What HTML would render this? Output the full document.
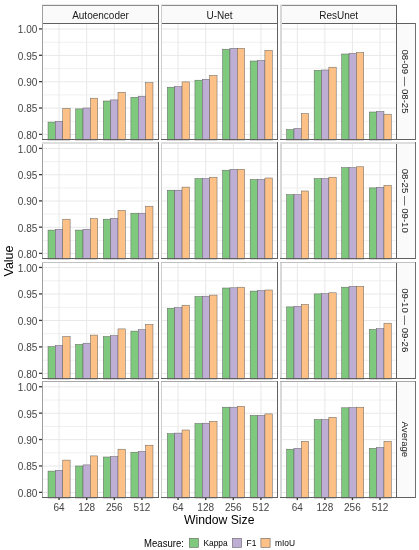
<!DOCTYPE html>
<html><head><meta charset="utf-8"><style>
html,body{margin:0;padding:0;background:#fff;}
body{width:419px;height:550px;overflow:hidden;}
svg{display:block;font-family:"Liberation Sans",Arial,sans-serif;}
</style></head><body>
<svg width="419" height="550" viewBox="0 0 419 550" shape-rendering="auto">
<rect x="0" y="0" width="419" height="550" fill="#FFFFFF"/>
<line x1="42.5" x2="158.5" y1="121.30" y2="121.30" stroke="#F0F0F0" stroke-width="1"/>
<line x1="42.5" x2="158.5" y1="94.93" y2="94.93" stroke="#F0F0F0" stroke-width="1"/>
<line x1="42.5" x2="158.5" y1="68.57" y2="68.57" stroke="#F0F0F0" stroke-width="1"/>
<line x1="42.5" x2="158.5" y1="42.20" y2="42.20" stroke="#F0F0F0" stroke-width="1"/>
<line x1="42.5" x2="158.5" y1="134.48" y2="134.48" stroke="#E8E8E8" stroke-width="1"/>
<line x1="42.5" x2="158.5" y1="108.11" y2="108.11" stroke="#E8E8E8" stroke-width="1"/>
<line x1="42.5" x2="158.5" y1="81.75" y2="81.75" stroke="#E8E8E8" stroke-width="1"/>
<line x1="42.5" x2="158.5" y1="55.39" y2="55.39" stroke="#E8E8E8" stroke-width="1"/>
<line x1="42.5" x2="158.5" y1="29.02" y2="29.02" stroke="#E8E8E8" stroke-width="1"/>
<line x1="59.07" x2="59.07" y1="23.5" y2="139.5" stroke="#E8E8E8" stroke-width="1"/>
<line x1="86.69" x2="86.69" y1="23.5" y2="139.5" stroke="#E8E8E8" stroke-width="1"/>
<line x1="114.31" x2="114.31" y1="23.5" y2="139.5" stroke="#E8E8E8" stroke-width="1"/>
<line x1="141.93" x2="141.93" y1="23.5" y2="139.5" stroke="#E8E8E8" stroke-width="1"/>
<g stroke="#606060" stroke-width="0.5">
<rect x="48.02" y="122.10" width="7.37" height="17.90" fill="#7FC97F"/>
<rect x="55.39" y="121.30" width="7.37" height="18.70" fill="#BEAED4"/>
<rect x="62.75" y="108.30" width="7.37" height="31.70" fill="#FDC086"/>
<rect x="75.64" y="108.90" width="7.37" height="31.10" fill="#7FC97F"/>
<rect x="83.01" y="108.00" width="7.37" height="32.00" fill="#BEAED4"/>
<rect x="90.37" y="98.20" width="7.37" height="41.80" fill="#FDC086"/>
<rect x="103.26" y="101.00" width="7.37" height="39.00" fill="#7FC97F"/>
<rect x="110.63" y="99.90" width="7.37" height="40.10" fill="#BEAED4"/>
<rect x="117.99" y="92.30" width="7.37" height="47.70" fill="#FDC086"/>
<rect x="130.88" y="97.30" width="7.37" height="42.70" fill="#7FC97F"/>
<rect x="138.25" y="96.20" width="7.37" height="43.80" fill="#BEAED4"/>
<rect x="145.61" y="82.70" width="7.37" height="57.30" fill="#FDC086"/>
</g>
<line x1="161.5" x2="277.5" y1="121.30" y2="121.30" stroke="#F0F0F0" stroke-width="1"/>
<line x1="161.5" x2="277.5" y1="94.93" y2="94.93" stroke="#F0F0F0" stroke-width="1"/>
<line x1="161.5" x2="277.5" y1="68.57" y2="68.57" stroke="#F0F0F0" stroke-width="1"/>
<line x1="161.5" x2="277.5" y1="42.20" y2="42.20" stroke="#F0F0F0" stroke-width="1"/>
<line x1="161.5" x2="277.5" y1="134.48" y2="134.48" stroke="#E8E8E8" stroke-width="1"/>
<line x1="161.5" x2="277.5" y1="108.11" y2="108.11" stroke="#E8E8E8" stroke-width="1"/>
<line x1="161.5" x2="277.5" y1="81.75" y2="81.75" stroke="#E8E8E8" stroke-width="1"/>
<line x1="161.5" x2="277.5" y1="55.39" y2="55.39" stroke="#E8E8E8" stroke-width="1"/>
<line x1="161.5" x2="277.5" y1="29.02" y2="29.02" stroke="#E8E8E8" stroke-width="1"/>
<line x1="178.07" x2="178.07" y1="23.5" y2="139.5" stroke="#E8E8E8" stroke-width="1"/>
<line x1="205.69" x2="205.69" y1="23.5" y2="139.5" stroke="#E8E8E8" stroke-width="1"/>
<line x1="233.31" x2="233.31" y1="23.5" y2="139.5" stroke="#E8E8E8" stroke-width="1"/>
<line x1="260.93" x2="260.93" y1="23.5" y2="139.5" stroke="#E8E8E8" stroke-width="1"/>
<g stroke="#606060" stroke-width="0.5">
<rect x="167.32" y="87.20" width="7.37" height="52.80" fill="#7FC97F"/>
<rect x="174.69" y="86.60" width="7.37" height="53.40" fill="#BEAED4"/>
<rect x="182.05" y="81.90" width="7.37" height="58.10" fill="#FDC086"/>
<rect x="194.94" y="80.20" width="7.37" height="59.80" fill="#7FC97F"/>
<rect x="202.31" y="79.30" width="7.37" height="60.70" fill="#BEAED4"/>
<rect x="209.67" y="75.40" width="7.37" height="64.60" fill="#FDC086"/>
<rect x="222.56" y="49.20" width="7.37" height="90.80" fill="#7FC97F"/>
<rect x="229.93" y="48.30" width="7.37" height="91.70" fill="#BEAED4"/>
<rect x="237.29" y="48.30" width="7.37" height="91.70" fill="#FDC086"/>
<rect x="250.18" y="61.00" width="7.37" height="79.00" fill="#7FC97F"/>
<rect x="257.55" y="60.50" width="7.37" height="79.50" fill="#BEAED4"/>
<rect x="264.91" y="50.30" width="7.37" height="89.70" fill="#FDC086"/>
</g>
<line x1="280.8" x2="396.5" y1="121.30" y2="121.30" stroke="#F0F0F0" stroke-width="1"/>
<line x1="280.8" x2="396.5" y1="94.93" y2="94.93" stroke="#F0F0F0" stroke-width="1"/>
<line x1="280.8" x2="396.5" y1="68.57" y2="68.57" stroke="#F0F0F0" stroke-width="1"/>
<line x1="280.8" x2="396.5" y1="42.20" y2="42.20" stroke="#F0F0F0" stroke-width="1"/>
<line x1="280.8" x2="396.5" y1="134.48" y2="134.48" stroke="#E8E8E8" stroke-width="1"/>
<line x1="280.8" x2="396.5" y1="108.11" y2="108.11" stroke="#E8E8E8" stroke-width="1"/>
<line x1="280.8" x2="396.5" y1="81.75" y2="81.75" stroke="#E8E8E8" stroke-width="1"/>
<line x1="280.8" x2="396.5" y1="55.39" y2="55.39" stroke="#E8E8E8" stroke-width="1"/>
<line x1="280.8" x2="396.5" y1="29.02" y2="29.02" stroke="#E8E8E8" stroke-width="1"/>
<line x1="297.33" x2="297.33" y1="23.5" y2="139.5" stroke="#E8E8E8" stroke-width="1"/>
<line x1="324.88" x2="324.88" y1="23.5" y2="139.5" stroke="#E8E8E8" stroke-width="1"/>
<line x1="352.42" x2="352.42" y1="23.5" y2="139.5" stroke="#E8E8E8" stroke-width="1"/>
<line x1="379.97" x2="379.97" y1="23.5" y2="139.5" stroke="#E8E8E8" stroke-width="1"/>
<g stroke="#606060" stroke-width="0.5">
<rect x="286.61" y="129.60" width="7.35" height="10.40" fill="#7FC97F"/>
<rect x="293.96" y="128.40" width="7.35" height="11.60" fill="#BEAED4"/>
<rect x="301.30" y="113.70" width="7.35" height="26.30" fill="#FDC086"/>
<rect x="314.16" y="70.30" width="7.35" height="69.70" fill="#7FC97F"/>
<rect x="321.50" y="70.00" width="7.35" height="70.00" fill="#BEAED4"/>
<rect x="328.85" y="67.20" width="7.35" height="72.80" fill="#FDC086"/>
<rect x="341.70" y="54.00" width="7.35" height="86.00" fill="#7FC97F"/>
<rect x="349.05" y="53.40" width="7.35" height="86.60" fill="#BEAED4"/>
<rect x="356.40" y="52.60" width="7.35" height="87.40" fill="#FDC086"/>
<rect x="369.25" y="112.00" width="7.35" height="28.00" fill="#7FC97F"/>
<rect x="376.60" y="111.40" width="7.35" height="28.60" fill="#BEAED4"/>
<rect x="383.94" y="114.20" width="7.35" height="25.80" fill="#FDC086"/>
</g>
<line x1="42.5" x2="158.5" y1="240.38" y2="240.38" stroke="#F0F0F0" stroke-width="1"/>
<line x1="42.5" x2="158.5" y1="214.12" y2="214.12" stroke="#F0F0F0" stroke-width="1"/>
<line x1="42.5" x2="158.5" y1="187.88" y2="187.88" stroke="#F0F0F0" stroke-width="1"/>
<line x1="42.5" x2="158.5" y1="161.63" y2="161.63" stroke="#F0F0F0" stroke-width="1"/>
<line x1="42.5" x2="158.5" y1="253.50" y2="253.50" stroke="#E8E8E8" stroke-width="1"/>
<line x1="42.5" x2="158.5" y1="227.25" y2="227.25" stroke="#E8E8E8" stroke-width="1"/>
<line x1="42.5" x2="158.5" y1="201.00" y2="201.00" stroke="#E8E8E8" stroke-width="1"/>
<line x1="42.5" x2="158.5" y1="174.75" y2="174.75" stroke="#E8E8E8" stroke-width="1"/>
<line x1="42.5" x2="158.5" y1="148.50" y2="148.50" stroke="#E8E8E8" stroke-width="1"/>
<line x1="59.07" x2="59.07" y1="143.0" y2="258.5" stroke="#E8E8E8" stroke-width="1"/>
<line x1="86.69" x2="86.69" y1="143.0" y2="258.5" stroke="#E8E8E8" stroke-width="1"/>
<line x1="114.31" x2="114.31" y1="143.0" y2="258.5" stroke="#E8E8E8" stroke-width="1"/>
<line x1="141.93" x2="141.93" y1="143.0" y2="258.5" stroke="#E8E8E8" stroke-width="1"/>
<g stroke="#606060" stroke-width="0.5">
<rect x="48.02" y="230.10" width="7.37" height="28.90" fill="#7FC97F"/>
<rect x="55.39" y="229.30" width="7.37" height="29.70" fill="#BEAED4"/>
<rect x="62.75" y="219.20" width="7.37" height="39.80" fill="#FDC086"/>
<rect x="75.64" y="230.10" width="7.37" height="28.90" fill="#7FC97F"/>
<rect x="83.01" y="229.30" width="7.37" height="29.70" fill="#BEAED4"/>
<rect x="90.37" y="218.60" width="7.37" height="40.40" fill="#FDC086"/>
<rect x="103.26" y="219.20" width="7.37" height="39.80" fill="#7FC97F"/>
<rect x="110.63" y="218.30" width="7.37" height="40.70" fill="#BEAED4"/>
<rect x="117.99" y="210.40" width="7.37" height="48.60" fill="#FDC086"/>
<rect x="130.88" y="213.20" width="7.37" height="45.80" fill="#7FC97F"/>
<rect x="138.25" y="213.20" width="7.37" height="45.80" fill="#BEAED4"/>
<rect x="145.61" y="206.20" width="7.37" height="52.80" fill="#FDC086"/>
</g>
<line x1="161.5" x2="277.5" y1="240.38" y2="240.38" stroke="#F0F0F0" stroke-width="1"/>
<line x1="161.5" x2="277.5" y1="214.12" y2="214.12" stroke="#F0F0F0" stroke-width="1"/>
<line x1="161.5" x2="277.5" y1="187.88" y2="187.88" stroke="#F0F0F0" stroke-width="1"/>
<line x1="161.5" x2="277.5" y1="161.63" y2="161.63" stroke="#F0F0F0" stroke-width="1"/>
<line x1="161.5" x2="277.5" y1="253.50" y2="253.50" stroke="#E8E8E8" stroke-width="1"/>
<line x1="161.5" x2="277.5" y1="227.25" y2="227.25" stroke="#E8E8E8" stroke-width="1"/>
<line x1="161.5" x2="277.5" y1="201.00" y2="201.00" stroke="#E8E8E8" stroke-width="1"/>
<line x1="161.5" x2="277.5" y1="174.75" y2="174.75" stroke="#E8E8E8" stroke-width="1"/>
<line x1="161.5" x2="277.5" y1="148.50" y2="148.50" stroke="#E8E8E8" stroke-width="1"/>
<line x1="178.07" x2="178.07" y1="143.0" y2="258.5" stroke="#E8E8E8" stroke-width="1"/>
<line x1="205.69" x2="205.69" y1="143.0" y2="258.5" stroke="#E8E8E8" stroke-width="1"/>
<line x1="233.31" x2="233.31" y1="143.0" y2="258.5" stroke="#E8E8E8" stroke-width="1"/>
<line x1="260.93" x2="260.93" y1="143.0" y2="258.5" stroke="#E8E8E8" stroke-width="1"/>
<g stroke="#606060" stroke-width="0.5">
<rect x="167.32" y="190.20" width="7.37" height="68.80" fill="#7FC97F"/>
<rect x="174.69" y="190.20" width="7.37" height="68.80" fill="#BEAED4"/>
<rect x="182.05" y="187.10" width="7.37" height="71.90" fill="#FDC086"/>
<rect x="194.94" y="178.60" width="7.37" height="80.40" fill="#7FC97F"/>
<rect x="202.31" y="178.60" width="7.37" height="80.40" fill="#BEAED4"/>
<rect x="209.67" y="177.20" width="7.37" height="81.80" fill="#FDC086"/>
<rect x="222.56" y="170.20" width="7.37" height="88.80" fill="#7FC97F"/>
<rect x="229.93" y="169.30" width="7.37" height="89.70" fill="#BEAED4"/>
<rect x="237.29" y="169.30" width="7.37" height="89.70" fill="#FDC086"/>
<rect x="250.18" y="179.50" width="7.37" height="79.50" fill="#7FC97F"/>
<rect x="257.55" y="179.50" width="7.37" height="79.50" fill="#BEAED4"/>
<rect x="264.91" y="178.00" width="7.37" height="81.00" fill="#FDC086"/>
</g>
<line x1="280.8" x2="396.5" y1="240.38" y2="240.38" stroke="#F0F0F0" stroke-width="1"/>
<line x1="280.8" x2="396.5" y1="214.12" y2="214.12" stroke="#F0F0F0" stroke-width="1"/>
<line x1="280.8" x2="396.5" y1="187.88" y2="187.88" stroke="#F0F0F0" stroke-width="1"/>
<line x1="280.8" x2="396.5" y1="161.63" y2="161.63" stroke="#F0F0F0" stroke-width="1"/>
<line x1="280.8" x2="396.5" y1="253.50" y2="253.50" stroke="#E8E8E8" stroke-width="1"/>
<line x1="280.8" x2="396.5" y1="227.25" y2="227.25" stroke="#E8E8E8" stroke-width="1"/>
<line x1="280.8" x2="396.5" y1="201.00" y2="201.00" stroke="#E8E8E8" stroke-width="1"/>
<line x1="280.8" x2="396.5" y1="174.75" y2="174.75" stroke="#E8E8E8" stroke-width="1"/>
<line x1="280.8" x2="396.5" y1="148.50" y2="148.50" stroke="#E8E8E8" stroke-width="1"/>
<line x1="297.33" x2="297.33" y1="143.0" y2="258.5" stroke="#E8E8E8" stroke-width="1"/>
<line x1="324.88" x2="324.88" y1="143.0" y2="258.5" stroke="#E8E8E8" stroke-width="1"/>
<line x1="352.42" x2="352.42" y1="143.0" y2="258.5" stroke="#E8E8E8" stroke-width="1"/>
<line x1="379.97" x2="379.97" y1="143.0" y2="258.5" stroke="#E8E8E8" stroke-width="1"/>
<g stroke="#606060" stroke-width="0.5">
<rect x="286.61" y="194.70" width="7.35" height="64.30" fill="#7FC97F"/>
<rect x="293.96" y="194.70" width="7.35" height="64.30" fill="#BEAED4"/>
<rect x="301.30" y="191.00" width="7.35" height="68.00" fill="#FDC086"/>
<rect x="314.16" y="178.60" width="7.35" height="80.40" fill="#7FC97F"/>
<rect x="321.50" y="178.60" width="7.35" height="80.40" fill="#BEAED4"/>
<rect x="328.85" y="177.20" width="7.35" height="81.80" fill="#FDC086"/>
<rect x="341.70" y="167.60" width="7.35" height="91.40" fill="#7FC97F"/>
<rect x="349.05" y="167.60" width="7.35" height="91.40" fill="#BEAED4"/>
<rect x="356.40" y="166.80" width="7.35" height="92.20" fill="#FDC086"/>
<rect x="369.25" y="187.90" width="7.35" height="71.10" fill="#7FC97F"/>
<rect x="376.60" y="187.30" width="7.35" height="71.70" fill="#BEAED4"/>
<rect x="383.94" y="185.40" width="7.35" height="73.60" fill="#FDC086"/>
</g>
<line x1="42.5" x2="158.5" y1="360.22" y2="360.22" stroke="#F0F0F0" stroke-width="1"/>
<line x1="42.5" x2="158.5" y1="333.74" y2="333.74" stroke="#F0F0F0" stroke-width="1"/>
<line x1="42.5" x2="158.5" y1="307.26" y2="307.26" stroke="#F0F0F0" stroke-width="1"/>
<line x1="42.5" x2="158.5" y1="280.78" y2="280.78" stroke="#F0F0F0" stroke-width="1"/>
<line x1="42.5" x2="158.5" y1="373.45" y2="373.45" stroke="#E8E8E8" stroke-width="1"/>
<line x1="42.5" x2="158.5" y1="346.98" y2="346.98" stroke="#E8E8E8" stroke-width="1"/>
<line x1="42.5" x2="158.5" y1="320.50" y2="320.50" stroke="#E8E8E8" stroke-width="1"/>
<line x1="42.5" x2="158.5" y1="294.02" y2="294.02" stroke="#E8E8E8" stroke-width="1"/>
<line x1="42.5" x2="158.5" y1="267.55" y2="267.55" stroke="#E8E8E8" stroke-width="1"/>
<line x1="59.07" x2="59.07" y1="262.0" y2="378.5" stroke="#E8E8E8" stroke-width="1"/>
<line x1="86.69" x2="86.69" y1="262.0" y2="378.5" stroke="#E8E8E8" stroke-width="1"/>
<line x1="114.31" x2="114.31" y1="262.0" y2="378.5" stroke="#E8E8E8" stroke-width="1"/>
<line x1="141.93" x2="141.93" y1="262.0" y2="378.5" stroke="#E8E8E8" stroke-width="1"/>
<g stroke="#606060" stroke-width="0.5">
<rect x="48.02" y="346.60" width="7.37" height="32.40" fill="#7FC97F"/>
<rect x="55.39" y="345.50" width="7.37" height="33.50" fill="#BEAED4"/>
<rect x="62.75" y="336.50" width="7.37" height="42.50" fill="#FDC086"/>
<rect x="75.64" y="344.40" width="7.37" height="34.60" fill="#7FC97F"/>
<rect x="83.01" y="343.20" width="7.37" height="35.80" fill="#BEAED4"/>
<rect x="90.37" y="335.10" width="7.37" height="43.90" fill="#FDC086"/>
<rect x="103.26" y="336.50" width="7.37" height="42.50" fill="#7FC97F"/>
<rect x="110.63" y="335.60" width="7.37" height="43.40" fill="#BEAED4"/>
<rect x="117.99" y="328.90" width="7.37" height="50.10" fill="#FDC086"/>
<rect x="130.88" y="331.10" width="7.37" height="47.90" fill="#7FC97F"/>
<rect x="138.25" y="329.70" width="7.37" height="49.30" fill="#BEAED4"/>
<rect x="145.61" y="324.40" width="7.37" height="54.60" fill="#FDC086"/>
</g>
<line x1="161.5" x2="277.5" y1="360.22" y2="360.22" stroke="#F0F0F0" stroke-width="1"/>
<line x1="161.5" x2="277.5" y1="333.74" y2="333.74" stroke="#F0F0F0" stroke-width="1"/>
<line x1="161.5" x2="277.5" y1="307.26" y2="307.26" stroke="#F0F0F0" stroke-width="1"/>
<line x1="161.5" x2="277.5" y1="280.78" y2="280.78" stroke="#F0F0F0" stroke-width="1"/>
<line x1="161.5" x2="277.5" y1="373.45" y2="373.45" stroke="#E8E8E8" stroke-width="1"/>
<line x1="161.5" x2="277.5" y1="346.98" y2="346.98" stroke="#E8E8E8" stroke-width="1"/>
<line x1="161.5" x2="277.5" y1="320.50" y2="320.50" stroke="#E8E8E8" stroke-width="1"/>
<line x1="161.5" x2="277.5" y1="294.02" y2="294.02" stroke="#E8E8E8" stroke-width="1"/>
<line x1="161.5" x2="277.5" y1="267.55" y2="267.55" stroke="#E8E8E8" stroke-width="1"/>
<line x1="178.07" x2="178.07" y1="262.0" y2="378.5" stroke="#E8E8E8" stroke-width="1"/>
<line x1="205.69" x2="205.69" y1="262.0" y2="378.5" stroke="#E8E8E8" stroke-width="1"/>
<line x1="233.31" x2="233.31" y1="262.0" y2="378.5" stroke="#E8E8E8" stroke-width="1"/>
<line x1="260.93" x2="260.93" y1="262.0" y2="378.5" stroke="#E8E8E8" stroke-width="1"/>
<g stroke="#606060" stroke-width="0.5">
<rect x="167.32" y="308.30" width="7.37" height="70.70" fill="#7FC97F"/>
<rect x="174.69" y="307.70" width="7.37" height="71.30" fill="#BEAED4"/>
<rect x="182.05" y="305.20" width="7.37" height="73.80" fill="#FDC086"/>
<rect x="194.94" y="296.50" width="7.37" height="82.50" fill="#7FC97F"/>
<rect x="202.31" y="296.20" width="7.37" height="82.80" fill="#BEAED4"/>
<rect x="209.67" y="295.10" width="7.37" height="83.90" fill="#FDC086"/>
<rect x="222.56" y="288.00" width="7.37" height="91.00" fill="#7FC97F"/>
<rect x="229.93" y="287.80" width="7.37" height="91.20" fill="#BEAED4"/>
<rect x="237.29" y="287.20" width="7.37" height="91.80" fill="#FDC086"/>
<rect x="250.18" y="291.10" width="7.37" height="87.90" fill="#7FC97F"/>
<rect x="257.55" y="290.60" width="7.37" height="88.40" fill="#BEAED4"/>
<rect x="264.91" y="290.00" width="7.37" height="89.00" fill="#FDC086"/>
</g>
<line x1="280.8" x2="396.5" y1="360.22" y2="360.22" stroke="#F0F0F0" stroke-width="1"/>
<line x1="280.8" x2="396.5" y1="333.74" y2="333.74" stroke="#F0F0F0" stroke-width="1"/>
<line x1="280.8" x2="396.5" y1="307.26" y2="307.26" stroke="#F0F0F0" stroke-width="1"/>
<line x1="280.8" x2="396.5" y1="280.78" y2="280.78" stroke="#F0F0F0" stroke-width="1"/>
<line x1="280.8" x2="396.5" y1="373.45" y2="373.45" stroke="#E8E8E8" stroke-width="1"/>
<line x1="280.8" x2="396.5" y1="346.98" y2="346.98" stroke="#E8E8E8" stroke-width="1"/>
<line x1="280.8" x2="396.5" y1="320.50" y2="320.50" stroke="#E8E8E8" stroke-width="1"/>
<line x1="280.8" x2="396.5" y1="294.02" y2="294.02" stroke="#E8E8E8" stroke-width="1"/>
<line x1="280.8" x2="396.5" y1="267.55" y2="267.55" stroke="#E8E8E8" stroke-width="1"/>
<line x1="297.33" x2="297.33" y1="262.0" y2="378.5" stroke="#E8E8E8" stroke-width="1"/>
<line x1="324.88" x2="324.88" y1="262.0" y2="378.5" stroke="#E8E8E8" stroke-width="1"/>
<line x1="352.42" x2="352.42" y1="262.0" y2="378.5" stroke="#E8E8E8" stroke-width="1"/>
<line x1="379.97" x2="379.97" y1="262.0" y2="378.5" stroke="#E8E8E8" stroke-width="1"/>
<g stroke="#606060" stroke-width="0.5">
<rect x="286.61" y="306.90" width="7.35" height="72.10" fill="#7FC97F"/>
<rect x="293.96" y="306.30" width="7.35" height="72.70" fill="#BEAED4"/>
<rect x="301.30" y="304.40" width="7.35" height="74.60" fill="#FDC086"/>
<rect x="314.16" y="293.90" width="7.35" height="85.10" fill="#7FC97F"/>
<rect x="321.50" y="293.70" width="7.35" height="85.30" fill="#BEAED4"/>
<rect x="328.85" y="292.80" width="7.35" height="86.20" fill="#FDC086"/>
<rect x="341.70" y="287.20" width="7.35" height="91.80" fill="#7FC97F"/>
<rect x="349.05" y="286.30" width="7.35" height="92.70" fill="#BEAED4"/>
<rect x="356.40" y="286.30" width="7.35" height="92.70" fill="#FDC086"/>
<rect x="369.25" y="329.40" width="7.35" height="49.60" fill="#7FC97F"/>
<rect x="376.60" y="328.60" width="7.35" height="50.40" fill="#BEAED4"/>
<rect x="383.94" y="323.20" width="7.35" height="55.80" fill="#FDC086"/>
</g>
<line x1="42.5" x2="158.5" y1="479.26" y2="479.26" stroke="#F0F0F0" stroke-width="1"/>
<line x1="42.5" x2="158.5" y1="452.85" y2="452.85" stroke="#F0F0F0" stroke-width="1"/>
<line x1="42.5" x2="158.5" y1="426.45" y2="426.45" stroke="#F0F0F0" stroke-width="1"/>
<line x1="42.5" x2="158.5" y1="400.04" y2="400.04" stroke="#F0F0F0" stroke-width="1"/>
<line x1="42.5" x2="158.5" y1="492.47" y2="492.47" stroke="#E8E8E8" stroke-width="1"/>
<line x1="42.5" x2="158.5" y1="466.06" y2="466.06" stroke="#E8E8E8" stroke-width="1"/>
<line x1="42.5" x2="158.5" y1="439.65" y2="439.65" stroke="#E8E8E8" stroke-width="1"/>
<line x1="42.5" x2="158.5" y1="413.24" y2="413.24" stroke="#E8E8E8" stroke-width="1"/>
<line x1="42.5" x2="158.5" y1="386.83" y2="386.83" stroke="#E8E8E8" stroke-width="1"/>
<line x1="59.07" x2="59.07" y1="381.3" y2="497.5" stroke="#E8E8E8" stroke-width="1"/>
<line x1="86.69" x2="86.69" y1="381.3" y2="497.5" stroke="#E8E8E8" stroke-width="1"/>
<line x1="114.31" x2="114.31" y1="381.3" y2="497.5" stroke="#E8E8E8" stroke-width="1"/>
<line x1="141.93" x2="141.93" y1="381.3" y2="497.5" stroke="#E8E8E8" stroke-width="1"/>
<g stroke="#606060" stroke-width="0.5">
<rect x="48.02" y="471.10" width="7.37" height="26.90" fill="#7FC97F"/>
<rect x="55.39" y="470.30" width="7.37" height="27.70" fill="#BEAED4"/>
<rect x="62.75" y="460.10" width="7.37" height="37.90" fill="#FDC086"/>
<rect x="75.64" y="466.00" width="7.37" height="32.00" fill="#7FC97F"/>
<rect x="83.01" y="464.90" width="7.37" height="33.10" fill="#BEAED4"/>
<rect x="90.37" y="455.90" width="7.37" height="42.10" fill="#FDC086"/>
<rect x="103.26" y="457.00" width="7.37" height="41.00" fill="#7FC97F"/>
<rect x="110.63" y="456.50" width="7.37" height="41.50" fill="#BEAED4"/>
<rect x="117.99" y="449.20" width="7.37" height="48.80" fill="#FDC086"/>
<rect x="130.88" y="452.20" width="7.37" height="45.80" fill="#7FC97F"/>
<rect x="138.25" y="451.40" width="7.37" height="46.60" fill="#BEAED4"/>
<rect x="145.61" y="445.20" width="7.37" height="52.80" fill="#FDC086"/>
</g>
<line x1="161.5" x2="277.5" y1="479.26" y2="479.26" stroke="#F0F0F0" stroke-width="1"/>
<line x1="161.5" x2="277.5" y1="452.85" y2="452.85" stroke="#F0F0F0" stroke-width="1"/>
<line x1="161.5" x2="277.5" y1="426.45" y2="426.45" stroke="#F0F0F0" stroke-width="1"/>
<line x1="161.5" x2="277.5" y1="400.04" y2="400.04" stroke="#F0F0F0" stroke-width="1"/>
<line x1="161.5" x2="277.5" y1="492.47" y2="492.47" stroke="#E8E8E8" stroke-width="1"/>
<line x1="161.5" x2="277.5" y1="466.06" y2="466.06" stroke="#E8E8E8" stroke-width="1"/>
<line x1="161.5" x2="277.5" y1="439.65" y2="439.65" stroke="#E8E8E8" stroke-width="1"/>
<line x1="161.5" x2="277.5" y1="413.24" y2="413.24" stroke="#E8E8E8" stroke-width="1"/>
<line x1="161.5" x2="277.5" y1="386.83" y2="386.83" stroke="#E8E8E8" stroke-width="1"/>
<line x1="178.07" x2="178.07" y1="381.3" y2="497.5" stroke="#E8E8E8" stroke-width="1"/>
<line x1="205.69" x2="205.69" y1="381.3" y2="497.5" stroke="#E8E8E8" stroke-width="1"/>
<line x1="233.31" x2="233.31" y1="381.3" y2="497.5" stroke="#E8E8E8" stroke-width="1"/>
<line x1="260.93" x2="260.93" y1="381.3" y2="497.5" stroke="#E8E8E8" stroke-width="1"/>
<g stroke="#606060" stroke-width="0.5">
<rect x="167.32" y="433.70" width="7.37" height="64.30" fill="#7FC97F"/>
<rect x="174.69" y="433.10" width="7.37" height="64.90" fill="#BEAED4"/>
<rect x="182.05" y="430.00" width="7.37" height="68.00" fill="#FDC086"/>
<rect x="194.94" y="423.50" width="7.37" height="74.50" fill="#7FC97F"/>
<rect x="202.31" y="423.20" width="7.37" height="74.80" fill="#BEAED4"/>
<rect x="209.67" y="421.30" width="7.37" height="76.70" fill="#FDC086"/>
<rect x="222.56" y="407.20" width="7.37" height="90.80" fill="#7FC97F"/>
<rect x="229.93" y="407.20" width="7.37" height="90.80" fill="#BEAED4"/>
<rect x="237.29" y="406.30" width="7.37" height="91.70" fill="#FDC086"/>
<rect x="250.18" y="415.40" width="7.37" height="82.60" fill="#7FC97F"/>
<rect x="257.55" y="415.40" width="7.37" height="82.60" fill="#BEAED4"/>
<rect x="264.91" y="413.90" width="7.37" height="84.10" fill="#FDC086"/>
</g>
<line x1="280.8" x2="396.5" y1="479.26" y2="479.26" stroke="#F0F0F0" stroke-width="1"/>
<line x1="280.8" x2="396.5" y1="452.85" y2="452.85" stroke="#F0F0F0" stroke-width="1"/>
<line x1="280.8" x2="396.5" y1="426.45" y2="426.45" stroke="#F0F0F0" stroke-width="1"/>
<line x1="280.8" x2="396.5" y1="400.04" y2="400.04" stroke="#F0F0F0" stroke-width="1"/>
<line x1="280.8" x2="396.5" y1="492.47" y2="492.47" stroke="#E8E8E8" stroke-width="1"/>
<line x1="280.8" x2="396.5" y1="466.06" y2="466.06" stroke="#E8E8E8" stroke-width="1"/>
<line x1="280.8" x2="396.5" y1="439.65" y2="439.65" stroke="#E8E8E8" stroke-width="1"/>
<line x1="280.8" x2="396.5" y1="413.24" y2="413.24" stroke="#E8E8E8" stroke-width="1"/>
<line x1="280.8" x2="396.5" y1="386.83" y2="386.83" stroke="#E8E8E8" stroke-width="1"/>
<line x1="297.33" x2="297.33" y1="381.3" y2="497.5" stroke="#E8E8E8" stroke-width="1"/>
<line x1="324.88" x2="324.88" y1="381.3" y2="497.5" stroke="#E8E8E8" stroke-width="1"/>
<line x1="352.42" x2="352.42" y1="381.3" y2="497.5" stroke="#E8E8E8" stroke-width="1"/>
<line x1="379.97" x2="379.97" y1="381.3" y2="497.5" stroke="#E8E8E8" stroke-width="1"/>
<g stroke="#606060" stroke-width="0.5">
<rect x="286.61" y="449.20" width="7.35" height="48.80" fill="#7FC97F"/>
<rect x="293.96" y="448.30" width="7.35" height="49.70" fill="#BEAED4"/>
<rect x="301.30" y="441.30" width="7.35" height="56.70" fill="#FDC086"/>
<rect x="314.16" y="419.60" width="7.35" height="78.40" fill="#7FC97F"/>
<rect x="321.50" y="419.60" width="7.35" height="78.40" fill="#BEAED4"/>
<rect x="328.85" y="417.30" width="7.35" height="80.70" fill="#FDC086"/>
<rect x="341.70" y="407.80" width="7.35" height="90.20" fill="#7FC97F"/>
<rect x="349.05" y="407.50" width="7.35" height="90.50" fill="#BEAED4"/>
<rect x="356.40" y="407.20" width="7.35" height="90.80" fill="#FDC086"/>
<rect x="369.25" y="448.30" width="7.35" height="49.70" fill="#7FC97F"/>
<rect x="376.60" y="447.50" width="7.35" height="50.50" fill="#BEAED4"/>
<rect x="383.94" y="441.30" width="7.35" height="56.70" fill="#FDC086"/>
</g>
<rect x="42" y="5" width="116" height="18" fill="#FAFAFA"/>
<text x="100.50" y="18.7" text-anchor="middle" font-size="10" fill="#1A1A1A">Autoencoder</text>
<rect x="161" y="5" width="116" height="18" fill="#FAFAFA"/>
<text x="219.50" y="18.7" text-anchor="middle" font-size="10" fill="#1A1A1A">U-Net</text>
<rect x="280" y="5" width="116" height="18" fill="#FAFAFA"/>
<text x="338.65" y="18.7" text-anchor="middle" font-size="10" fill="#1A1A1A">ResUnet</text>
<rect x="397" y="24" width="18" height="115" fill="#FAFAFA"/>
<text transform="translate(401.9,81.50) rotate(90)" text-anchor="middle" font-size="9.6" fill="#1A1A1A">08-09 — 08-25</text>
<rect x="397" y="144" width="18" height="114" fill="#FAFAFA"/>
<text transform="translate(401.9,200.75) rotate(90)" text-anchor="middle" font-size="9.6" fill="#1A1A1A">08-25 — 09-10</text>
<rect x="397" y="263" width="18" height="115" fill="#FAFAFA"/>
<text transform="translate(401.9,320.25) rotate(90)" text-anchor="middle" font-size="9.6" fill="#1A1A1A">09-10 — 09-26</text>
<rect x="397" y="382" width="18" height="115" fill="#FAFAFA"/>
<text transform="translate(401.9,439.40) rotate(90)" text-anchor="middle" font-size="9.6" fill="#1A1A1A">Average</text>
<g shape-rendering="crispEdges">
<rect x="42" y="23" width="1" height="117" fill="#A0A0A0"/>
<rect x="42" y="23" width="117" height="1" fill="#606060"/>
<rect x="42" y="139" width="117" height="1" fill="#606060"/>
<rect x="158" y="23" width="1" height="117" fill="#606060"/>
<rect x="161" y="23" width="1" height="117" fill="#CCCCCC"/>
<rect x="161" y="23" width="117" height="1" fill="#606060"/>
<rect x="161" y="139" width="117" height="1" fill="#606060"/>
<rect x="277" y="23" width="1" height="117" fill="#606060"/>
<rect x="280" y="23" width="1" height="117" fill="#D8D8D8"/>
<rect x="281" y="23" width="1" height="117" fill="#D8D8D8"/>
<rect x="280" y="23" width="117" height="1" fill="#606060"/>
<rect x="280" y="139" width="117" height="1" fill="#606060"/>
<rect x="396" y="23" width="1" height="117" fill="#606060"/>
<rect x="396" y="23" width="20" height="1" fill="#606060"/>
<rect x="396" y="139" width="20" height="1" fill="#606060"/>
<rect x="415" y="23" width="1" height="117" fill="#707070"/>
<rect x="42" y="142" width="1" height="117" fill="#A0A0A0"/>
<rect x="42" y="142" width="117" height="1" fill="#DEDEDE"/>
<rect x="42" y="143" width="117" height="1" fill="#DEDEDE"/>
<rect x="42" y="258" width="117" height="1" fill="#606060"/>
<rect x="158" y="142" width="1" height="117" fill="#606060"/>
<rect x="161" y="142" width="1" height="117" fill="#CCCCCC"/>
<rect x="161" y="142" width="117" height="1" fill="#DEDEDE"/>
<rect x="161" y="143" width="117" height="1" fill="#DEDEDE"/>
<rect x="161" y="258" width="117" height="1" fill="#606060"/>
<rect x="277" y="142" width="1" height="117" fill="#606060"/>
<rect x="280" y="142" width="1" height="117" fill="#D8D8D8"/>
<rect x="281" y="142" width="1" height="117" fill="#D8D8D8"/>
<rect x="280" y="142" width="117" height="1" fill="#DEDEDE"/>
<rect x="280" y="143" width="117" height="1" fill="#DEDEDE"/>
<rect x="280" y="258" width="117" height="1" fill="#606060"/>
<rect x="396" y="142" width="1" height="117" fill="#606060"/>
<rect x="396" y="142" width="20" height="1" fill="#DEDEDE"/>
<rect x="396" y="143" width="20" height="1" fill="#DEDEDE"/>
<rect x="396" y="258" width="20" height="1" fill="#606060"/>
<rect x="415" y="142" width="1" height="117" fill="#707070"/>
<rect x="42" y="262" width="1" height="117" fill="#A0A0A0"/>
<rect x="42" y="262" width="117" height="1" fill="#C2C2C2"/>
<rect x="42" y="378" width="117" height="1" fill="#606060"/>
<rect x="158" y="262" width="1" height="117" fill="#606060"/>
<rect x="161" y="262" width="1" height="117" fill="#CCCCCC"/>
<rect x="161" y="262" width="117" height="1" fill="#C2C2C2"/>
<rect x="161" y="378" width="117" height="1" fill="#606060"/>
<rect x="277" y="262" width="1" height="117" fill="#606060"/>
<rect x="280" y="262" width="1" height="117" fill="#D8D8D8"/>
<rect x="281" y="262" width="1" height="117" fill="#D8D8D8"/>
<rect x="280" y="262" width="117" height="1" fill="#C2C2C2"/>
<rect x="280" y="378" width="117" height="1" fill="#606060"/>
<rect x="396" y="262" width="1" height="117" fill="#606060"/>
<rect x="396" y="262" width="20" height="1" fill="#C2C2C2"/>
<rect x="396" y="378" width="20" height="1" fill="#606060"/>
<rect x="415" y="262" width="1" height="117" fill="#707070"/>
<rect x="42" y="381" width="1" height="117" fill="#A0A0A0"/>
<rect x="42" y="381" width="117" height="1" fill="#A8A8A8"/>
<rect x="42" y="497" width="117" height="1" fill="#606060"/>
<rect x="158" y="381" width="1" height="117" fill="#606060"/>
<rect x="161" y="381" width="1" height="117" fill="#CCCCCC"/>
<rect x="161" y="381" width="117" height="1" fill="#A8A8A8"/>
<rect x="161" y="497" width="117" height="1" fill="#606060"/>
<rect x="277" y="381" width="1" height="117" fill="#606060"/>
<rect x="280" y="381" width="1" height="117" fill="#D8D8D8"/>
<rect x="281" y="381" width="1" height="117" fill="#D8D8D8"/>
<rect x="280" y="381" width="117" height="1" fill="#A8A8A8"/>
<rect x="280" y="497" width="117" height="1" fill="#606060"/>
<rect x="396" y="381" width="1" height="117" fill="#606060"/>
<rect x="396" y="381" width="20" height="1" fill="#A8A8A8"/>
<rect x="396" y="497" width="20" height="1" fill="#606060"/>
<rect x="415" y="381" width="1" height="117" fill="#707070"/>
<rect x="42" y="5" width="117" height="1" fill="#8C8C8C"/>
<rect x="42" y="4" width="117" height="1" fill="#EAEAEA"/>
<rect x="42" y="5" width="1" height="19" fill="#A0A0A0"/>
<rect x="158" y="5" width="1" height="19" fill="#606060"/>
<rect x="161" y="5" width="117" height="1" fill="#8C8C8C"/>
<rect x="161" y="4" width="117" height="1" fill="#EAEAEA"/>
<rect x="161" y="5" width="1" height="19" fill="#CCCCCC"/>
<rect x="277" y="5" width="1" height="19" fill="#606060"/>
<rect x="280" y="5" width="117" height="1" fill="#8C8C8C"/>
<rect x="280" y="4" width="117" height="1" fill="#EAEAEA"/>
<rect x="280" y="5" width="1" height="19" fill="#D8D8D8"/>
<rect x="281" y="5" width="1" height="19" fill="#D8D8D8"/>
<rect x="396" y="5" width="1" height="19" fill="#606060"/>
</g>
<line x1="39.0" x2="42" y1="134.38" y2="134.38" stroke="#3A3A3A" stroke-width="1.3"/>
<text x="37.3" y="138.83" text-anchor="end" font-size="10" fill="#444444">0.80</text>
<line x1="39.0" x2="42" y1="108.01" y2="108.01" stroke="#3A3A3A" stroke-width="1.3"/>
<text x="37.3" y="112.46" text-anchor="end" font-size="10" fill="#444444">0.85</text>
<line x1="39.0" x2="42" y1="81.65" y2="81.65" stroke="#3A3A3A" stroke-width="1.3"/>
<text x="37.3" y="86.10" text-anchor="end" font-size="10" fill="#444444">0.90</text>
<line x1="39.0" x2="42" y1="55.29" y2="55.29" stroke="#3A3A3A" stroke-width="1.3"/>
<text x="37.3" y="59.74" text-anchor="end" font-size="10" fill="#444444">0.95</text>
<line x1="39.0" x2="42" y1="28.92" y2="28.92" stroke="#3A3A3A" stroke-width="1.3"/>
<text x="37.3" y="33.37" text-anchor="end" font-size="10" fill="#444444">1.00</text>
<line x1="39.0" x2="42" y1="253.40" y2="253.40" stroke="#3A3A3A" stroke-width="1.3"/>
<text x="37.3" y="257.85" text-anchor="end" font-size="10" fill="#444444">0.80</text>
<line x1="39.0" x2="42" y1="227.15" y2="227.15" stroke="#3A3A3A" stroke-width="1.3"/>
<text x="37.3" y="231.60" text-anchor="end" font-size="10" fill="#444444">0.85</text>
<line x1="39.0" x2="42" y1="200.90" y2="200.90" stroke="#3A3A3A" stroke-width="1.3"/>
<text x="37.3" y="205.35" text-anchor="end" font-size="10" fill="#444444">0.90</text>
<line x1="39.0" x2="42" y1="174.65" y2="174.65" stroke="#3A3A3A" stroke-width="1.3"/>
<text x="37.3" y="179.10" text-anchor="end" font-size="10" fill="#444444">0.95</text>
<line x1="39.0" x2="42" y1="148.40" y2="148.40" stroke="#3A3A3A" stroke-width="1.3"/>
<text x="37.3" y="152.85" text-anchor="end" font-size="10" fill="#444444">1.00</text>
<line x1="39.0" x2="42" y1="373.35" y2="373.35" stroke="#3A3A3A" stroke-width="1.3"/>
<text x="37.3" y="377.80" text-anchor="end" font-size="10" fill="#444444">0.80</text>
<line x1="39.0" x2="42" y1="346.88" y2="346.88" stroke="#3A3A3A" stroke-width="1.3"/>
<text x="37.3" y="351.33" text-anchor="end" font-size="10" fill="#444444">0.85</text>
<line x1="39.0" x2="42" y1="320.40" y2="320.40" stroke="#3A3A3A" stroke-width="1.3"/>
<text x="37.3" y="324.85" text-anchor="end" font-size="10" fill="#444444">0.90</text>
<line x1="39.0" x2="42" y1="293.92" y2="293.92" stroke="#3A3A3A" stroke-width="1.3"/>
<text x="37.3" y="298.37" text-anchor="end" font-size="10" fill="#444444">0.95</text>
<line x1="39.0" x2="42" y1="267.45" y2="267.45" stroke="#3A3A3A" stroke-width="1.3"/>
<text x="37.3" y="271.90" text-anchor="end" font-size="10" fill="#444444">1.00</text>
<line x1="39.0" x2="42" y1="492.37" y2="492.37" stroke="#3A3A3A" stroke-width="1.3"/>
<text x="37.3" y="496.82" text-anchor="end" font-size="10" fill="#444444">0.80</text>
<line x1="39.0" x2="42" y1="465.96" y2="465.96" stroke="#3A3A3A" stroke-width="1.3"/>
<text x="37.3" y="470.41" text-anchor="end" font-size="10" fill="#444444">0.85</text>
<line x1="39.0" x2="42" y1="439.55" y2="439.55" stroke="#3A3A3A" stroke-width="1.3"/>
<text x="37.3" y="444.00" text-anchor="end" font-size="10" fill="#444444">0.90</text>
<line x1="39.0" x2="42" y1="413.14" y2="413.14" stroke="#3A3A3A" stroke-width="1.3"/>
<text x="37.3" y="417.59" text-anchor="end" font-size="10" fill="#444444">0.95</text>
<line x1="39.0" x2="42" y1="386.73" y2="386.73" stroke="#3A3A3A" stroke-width="1.3"/>
<text x="37.3" y="391.18" text-anchor="end" font-size="10" fill="#444444">1.00</text>
<line x1="59.07" x2="59.07" y1="498.0" y2="500.10" stroke="#3A3A3A" stroke-width="1.4"/>
<text x="59.07" y="510.60" text-anchor="middle" font-size="10" fill="#444444">64</text>
<line x1="86.69" x2="86.69" y1="498.0" y2="500.10" stroke="#3A3A3A" stroke-width="1.4"/>
<text x="86.69" y="510.60" text-anchor="middle" font-size="10" fill="#444444">128</text>
<line x1="114.31" x2="114.31" y1="498.0" y2="500.10" stroke="#3A3A3A" stroke-width="1.4"/>
<text x="114.31" y="510.60" text-anchor="middle" font-size="10" fill="#444444">256</text>
<line x1="141.93" x2="141.93" y1="498.0" y2="500.10" stroke="#3A3A3A" stroke-width="1.4"/>
<text x="141.93" y="510.60" text-anchor="middle" font-size="10" fill="#444444">512</text>
<line x1="178.07" x2="178.07" y1="498.0" y2="500.10" stroke="#3A3A3A" stroke-width="1.4"/>
<text x="178.07" y="510.60" text-anchor="middle" font-size="10" fill="#444444">64</text>
<line x1="205.69" x2="205.69" y1="498.0" y2="500.10" stroke="#3A3A3A" stroke-width="1.4"/>
<text x="205.69" y="510.60" text-anchor="middle" font-size="10" fill="#444444">128</text>
<line x1="233.31" x2="233.31" y1="498.0" y2="500.10" stroke="#3A3A3A" stroke-width="1.4"/>
<text x="233.31" y="510.60" text-anchor="middle" font-size="10" fill="#444444">256</text>
<line x1="260.93" x2="260.93" y1="498.0" y2="500.10" stroke="#3A3A3A" stroke-width="1.4"/>
<text x="260.93" y="510.60" text-anchor="middle" font-size="10" fill="#444444">512</text>
<line x1="297.33" x2="297.33" y1="498.0" y2="500.10" stroke="#3A3A3A" stroke-width="1.4"/>
<text x="297.33" y="510.60" text-anchor="middle" font-size="10" fill="#444444">64</text>
<line x1="324.88" x2="324.88" y1="498.0" y2="500.10" stroke="#3A3A3A" stroke-width="1.4"/>
<text x="324.88" y="510.60" text-anchor="middle" font-size="10" fill="#444444">128</text>
<line x1="352.42" x2="352.42" y1="498.0" y2="500.10" stroke="#3A3A3A" stroke-width="1.4"/>
<text x="352.42" y="510.60" text-anchor="middle" font-size="10" fill="#444444">256</text>
<line x1="379.97" x2="379.97" y1="498.0" y2="500.10" stroke="#3A3A3A" stroke-width="1.4"/>
<text x="379.97" y="510.60" text-anchor="middle" font-size="10" fill="#444444">512</text>
<text x="219.2" y="524.4" text-anchor="middle" font-size="12.2" fill="#000000">Window Size</text>
<text transform="translate(13.1,261) rotate(-90)" text-anchor="middle" font-size="12.5" fill="#000000">Value</text>
<text transform="translate(144.1,546.9) scale(0.955,1)" font-size="10" fill="#000000">Measure:</text>
<rect x="189.3" y="538.3" width="9.2" height="9.2" fill="#7FC97F" stroke="#666666" stroke-width="0.6"/>
<text x="203.4" y="545.9" font-size="8.4" fill="#000000">Kappa</text>
<rect x="232.4" y="538.3" width="9.2" height="9.2" fill="#BEAED4" stroke="#666666" stroke-width="0.6"/>
<text x="246.6" y="545.9" font-size="8.4" fill="#000000">F1</text>
<rect x="260.9" y="538.3" width="9.2" height="9.2" fill="#FDC086" stroke="#666666" stroke-width="0.6"/>
<text x="275.0" y="545.9" font-size="8.4" fill="#000000">mIoU</text>
</svg>
</body></html>
